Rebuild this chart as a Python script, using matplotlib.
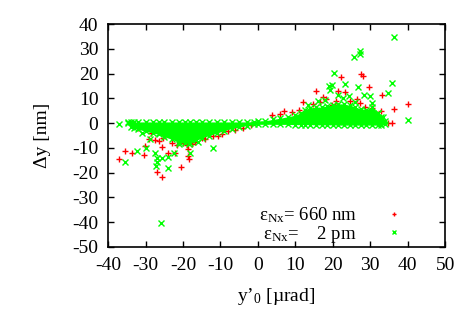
import matplotlib
matplotlib.use("Agg")
import matplotlib.pyplot as plt

plt.rcParams['font.family'] = ['Liberation Serif', 'DejaVu Serif']
plt.rcParams['mathtext.fontset'] = 'custom'
plt.rcParams['mathtext.rm'] = 'Liberation Serif'
plt.rcParams['mathtext.it'] = 'Liberation Serif:italic'
plt.rcParams['axes.unicode_minus'] = False

# dense core of the distribution (green area)
band_x = [-34.8, -34, -33, -32, -30, -28, -26.5, -25, -23, -21, -19.5, -18, -16.5, -15,
          -13, -11, -9, -7, -5, -3, -1, 0, 2, 4, 6, 8, 10, 11.5, 12.5, 14, 15.5, 17,
          18.5, 20, 21.5, 23, 24.5, 26, 27.5, 29, 30.5, 32, 33, 34]
band_lo = [0, -1.5, -2, -2.5, -3.2, -4, -4.5, -5.5, -6.5, -7.8, -8.2, -8, -7, -6,
           -5, -4, -3, -2.2, -1.6, -1, -0.5, -0.4, -0.4, -0.5, -0.5, -0.5, -0.6, -0.6,
           -0.6, -0.6, -0.7, -0.7, -0.7, -0.7, -0.8, -0.8, -0.8, -0.8, -0.8, -0.8, -0.8,
           -0.8, -0.8, -0.5]
band_hi = [0.3, 0.5, 0.5, 0.5, 0.5, 0.5, 0.5, 0.5, 0.5, 0.5, 0.5, 0.5, 0.5, 0.5,
           0.5, 0.5, 0.5, 0.5, 0.5, 0.5, 0.6, 0.7, 1, 1.5, 2, 2.6, 3.2, 4.2, 5.5, 6.2, 6.5, 6.5,
           7, 7.5, 7.8, 7.8, 7.2, 6.5, 5.8, 5.5, 6.5, 4, 2.5, 1]

# emittance 660 nm (red +)
red_x = [-37.2, -35.6, -33.7, -30.3, -29.2, -27.4, -26.5, -28.6, -26.9, -25.7, -25.5,
         -23.9, -22.1, -20.5, -18.6, -18.3, -18.6, -20.1, -23.0, -16.8, -15.0, -13.3,
         -10.6, -9.7, -7.9, -6.2, -4.0, -1.7, -25.2, -32.0, -34.2, -30.2, -21.5, -19.0,
         -17.5, -14.0, -12.0,
         22.1, 27.5, 28.1, 15.4, 21.4, 23.4, 29.7, 33.2, 40.2, 36.3, 35.7, 34.8, 12.1,
         14.8, 7.0, 3.8, 18.3, 19.7, 20.6, 26.4, 27.2, 30.4, 30.8, 33.0, 23.7, 9.0, 5.9,
         16.5, 24.5, 25.5, 31.5, 11.0, 17.5, 21.0, 28.5]
red_y = [-14.5, -11.2, -11.9, -12.9, -6.5, -6.8, -7.2, -4.1, -19.6, -21.9, -9.5,
         -11.9, -11.9, -17.8, -13.2, -14.5, -10.3, -7.9, -7.9, -7.5, -5.9, -3.9,
         -5.2, -4.5, -3.2, -2.8, -1.9, -0.9, -5.9, -1.9, 0.0, -9.2, -8.8, -9.0,
         -8.5, -6.5, -5.2,
         18.6, 19.7, 19.0, 12.9, 12.9, 12.4, 14.5, 11.3, 7.8, 5.8, 0.2, 0.2, 8.6,
         7.9, 5.1, 3.5, 9.6, 7.5, 7.1, 9.6, 8.2, 6.2, 4.2, 4.8, 4.2, 4.6, 3.8,
         8.5, 8.8, 5.5, 3.0, 5.5, 10.5, 9.0, 6.5]

# emittance 2 pm (green x)
green_x = [-37.2, -35.6, -32.3, -29.9, -28.7, -27.6, -26.9, -26.9, -27.2, -25.7, -24.0,
           -24.0, -22.5, -18.1, -18.3, -11.9, -26.5, -25.8, -31.0, -21.0, -16.0,
           36.3, 25.6, 27.4, 27.4, 20.4, 23.2, 19.0, 19.9, 19.2, 26.8, 35.9, 34.8, 28.3,
           29.9, 40.1, 24.4, 22.8, 32.1, 18.0, 21.5, 26.0, 30.5, 33.5, 16.0, 13.5]
green_y = [-0.5, -15.6, -11.2, -9.9, -6.3, -11.9, -13.9, -15.6, -17.2, -13.9, -18.3,
           -13.6, -11.9, -11.9, -8.5, -9.9, -3.9, -40.5, -4.0, -8.5, -7.5,
           34.9, 26.6, 29.3, 28.0, 20.1, 15.9, 15.2, 15.6, 13.6, 14.8, 16.3, 12.3, 11.3,
           10.9, 1.2, 10.9, 10.0, 4.2, 9.5, 11.5, 8.5, 8.0, 2.5, 9.0, 7.5]

labels = [r'$\mathrm{\varepsilon}_{\mathrm{Nx}}$= 660 nm',
          r'$\mathrm{\varepsilon}_{\mathrm{Nx}}$=    2 pm']

fig = plt.figure(figsize=(4.74, 3.31), dpi=100)
ax = fig.add_axes([0.228, 0.254, 0.711, 0.673])

r, = ax.plot(red_x, red_y, '+', color='#ff0000', ms=5, mew=1)
ax.fill_between(band_x, band_lo, band_hi, color='#00ff00', lw=0, zorder=2.5)
ax.plot(band_x, band_lo, 'x', color='#00ff00', ms=4, mew=1, zorder=2.6)
ax.plot(band_x, band_hi, 'x', color='#00ff00', ms=4, mew=1, zorder=2.6)
g, = ax.plot(green_x, green_y, 'x', color='#00ff00', ms=4.5, mew=1, zorder=2.7)

ax.set_xlim(-40, 50)
ax.set_ylim(-50, 40)
ax.set_xticks(range(-40, 51, 10))
ax.set_yticks(range(-50, 41, 10))
ax.tick_params(direction='in', top=True, right=True, length=4, width=1, labelsize=14, pad=7)
for s in ax.spines.values():
    s.set_linewidth(1.2)

ax.set_xlabel("y’$_{0}$ [µrad]", fontsize=14, labelpad=9)
ax.set_ylabel("Δy [nm]", fontsize=14, labelpad=15)

# key: labels right aligned like gnuplot, small sample markers at the right
ax.text(0.739, 0.143, labels[0], transform=ax.transAxes, ha='right', va='center', fontsize=13.5)
ax.text(0.739, 0.055, labels[1], transform=ax.transAxes, ha='right', va='center', fontsize=13.5)
ax.legend([r, g], ['', ''], loc='center', bbox_to_anchor=(0.849, 0.099), frameon=False,
          numpoints=1, fontsize=14, handlelength=1, handletextpad=0, labelspacing=0,
          borderpad=0, markerscale=0.6)

plt.savefig("out.png", dpi=100)
